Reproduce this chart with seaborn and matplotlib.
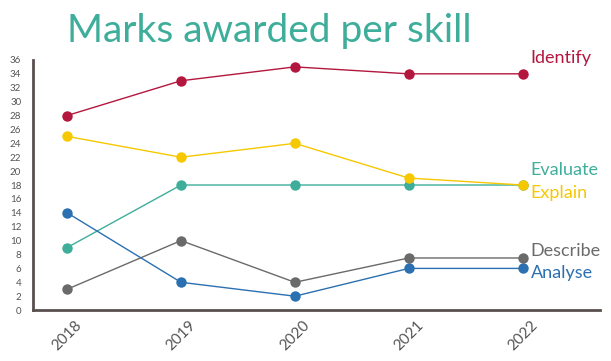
import pandas as pd
import numpy as np
import matplotlib
matplotlib.use('Agg')
import matplotlib.pyplot as plt
import seaborn as sns

years = ['2018', '2019', '2020', '2021', '2022']
identify = [28, 33, 35, 34, 34]
explain = [25, 22, 24, 19, 18]
evaluate = [9, 18, 18, 18, 18]
describe = [3, 10, 4, 7.5, 7.5]
analyse = [14, 4, 2, 6, 6]

skills = ['Identify', 'Evaluate', 'Explain', 'Describe', 'Analyse']
colors = {'Identify': '#b3173e', 'Explain': '#f6c800', 'Evaluate': '#3eae9b',
          'Describe': '#6a6a6a', 'Analyse': '#2b70b0'}

rows = []
for name, vals in zip(skills, [identify, evaluate, explain, describe, analyse]):
    for i, v in enumerate(vals):
        rows.append({'idx': i, 'year': years[i], 'marks': v, 'skill': name})
df = pd.DataFrame(rows)

sns.set_style('white')
plt.rcParams['font.family'] = ['Lato', 'DejaVu Sans']

fig = plt.figure(figsize=(6.11, 3.61), dpi=100)
ax = fig.add_axes([0.054, 0.141, 0.928, 0.693])

sns.lineplot(data=df, x='idx', y='marks', hue='skill', hue_order=skills,
             palette=colors, marker='o', markersize=7.5, markeredgewidth=0,
             linewidth=1, legend=False, ax=ax)

ax.set_xlim(-0.30, 4.68)
ax.set_ylim(0, 36)
ax.set_yticks(range(0, 37, 2))
ax.set_xticks(range(5))
ax.set_xticklabels(years, rotation=45, color='#555555', fontsize=11)
ax.tick_params(axis='y', labelsize=7, labelcolor='#555555', color='#594f4f',
               length=5, width=1.5)
ax.tick_params(axis='x', length=0, pad=6)
ax.set_xlabel('')
ax.set_ylabel('')
for s in ['top', 'right']:
    ax.spines[s].set_visible(False)
for s in ['left', 'bottom']:
    ax.spines[s].set_color('#594f4f')
    ax.spines[s].set_linewidth(2)

label_pos = {'Identify': 36.3, 'Evaluate': 20.2, 'Explain': 16.9,
             'Describe': 8.5, 'Analyse': 5.3}
for name in skills:
    ax.text(4.07, label_pos[name], name, color=colors[name], fontsize=13,
            va='center', ha='left', clip_on=False)

fig.text(0.44, 0.915, 'Marks awarded per skill', color='#3eae9b',
         fontsize=28, ha='center', va='center')

fig.savefig('out.png', dpi=100)
